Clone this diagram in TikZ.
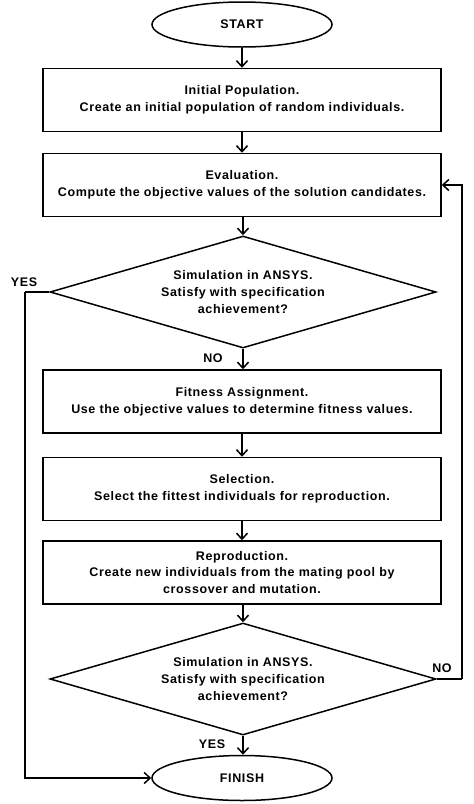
\documentclass[tikz,border=0pt]{standalone}
\usepackage{fontspec}
\setmainfont{Liberation Sans}
\usetikzlibrary{shapes.geometric,arrows.meta}
\begin{document}
\begin{tikzpicture}[x=1pt,y=-1pt,
  every node/.style={font=\bfseries\fontsize{12.5}{16.7}\selectfont\addfontfeature{LetterSpace=5}, align=center},
  proc/.style={draw, line width=1.5pt, minimum width=398pt, minimum height=63pt, inner sep=0pt},
  term/.style={draw, ellipse, line width=1.5pt, minimum width=180pt, minimum height=45pt, inner sep=0pt},
  dec/.style={draw, diamond, aspect=3.45, line width=1.5pt, minimum width=386pt, minimum height=112pt, inner sep=0pt},
  lbl/.style={inner sep=0pt},
  arr/.style={line width=1.5pt, -{Straight Barb[length=6pt,width=11pt,line width=1.5pt]}},
  ln/.style={line width=1.5pt}]
\useasboundingbox (0,0) rectangle (474,804);
\fill[white] (0,0) rectangle (474,804);
\node[term] (start) at (242,24.5) {START};
\node[proc] (b1) at (242,100) {Initial Population.\\Create an initial population of random individuals.};
\node[proc] (b2) at (242,185) {Evaluation.\\Compute the objective values of the solution candidates.};
\node[dec] (d1) at (243,292) {Simulation in ANSYS.\\Satisfy with specification\\achievement?};
\node[proc] (b3) at (242,401.5) {Fitness Assignment.\\Use the objective values to determine fitness values.};
\node[proc] (b4) at (242,489) {Selection.\\Select the fittest individuals for reproduction.};
\node[proc] (b5) at (242,572.5) {Reproduction.\\Create new individuals from the mating pool by\\crossover and mutation.};
\node[dec] (d2) at (243,679) {Simulation in ANSYS.\\Satisfy with specification\\achievement?};
\node[term] (finish) at (242,778) {FINISH};
\node[lbl] (yes1) at (24,282) {YES};
\node[lbl] (no1) at (213,358) {NO};
\node[lbl] (no2) at (442,668) {NO};
\node[lbl] (yes2) at (212,744) {YES};
\coordinate (lft) at (25,292);
\coordinate (rgt) at (462,679);
\draw[arr] (start) -- (b1);
\draw[arr] (b1) -- (b2);
\draw[arr] (b2.south -| d1.north) -- (d1.north);
\draw[arr] (d1.south) -- (d1.south |- b3.north);
\draw[arr] (b3) -- (b4);
\draw[arr] (b4) -- (b5);
\draw[arr] (b5.south -| d2.north) -- (d2.north);
\draw[arr] (d2.south) -- (d2.south |- finish.north);
\draw[ln] (d1.west) -- (lft);
\draw[arr] (lft) |- (finish.west);
\draw[ln] (d2.east) -- (rgt);
\draw[arr] (rgt) |- (b2.east);
\end{tikzpicture}
\end{document}
